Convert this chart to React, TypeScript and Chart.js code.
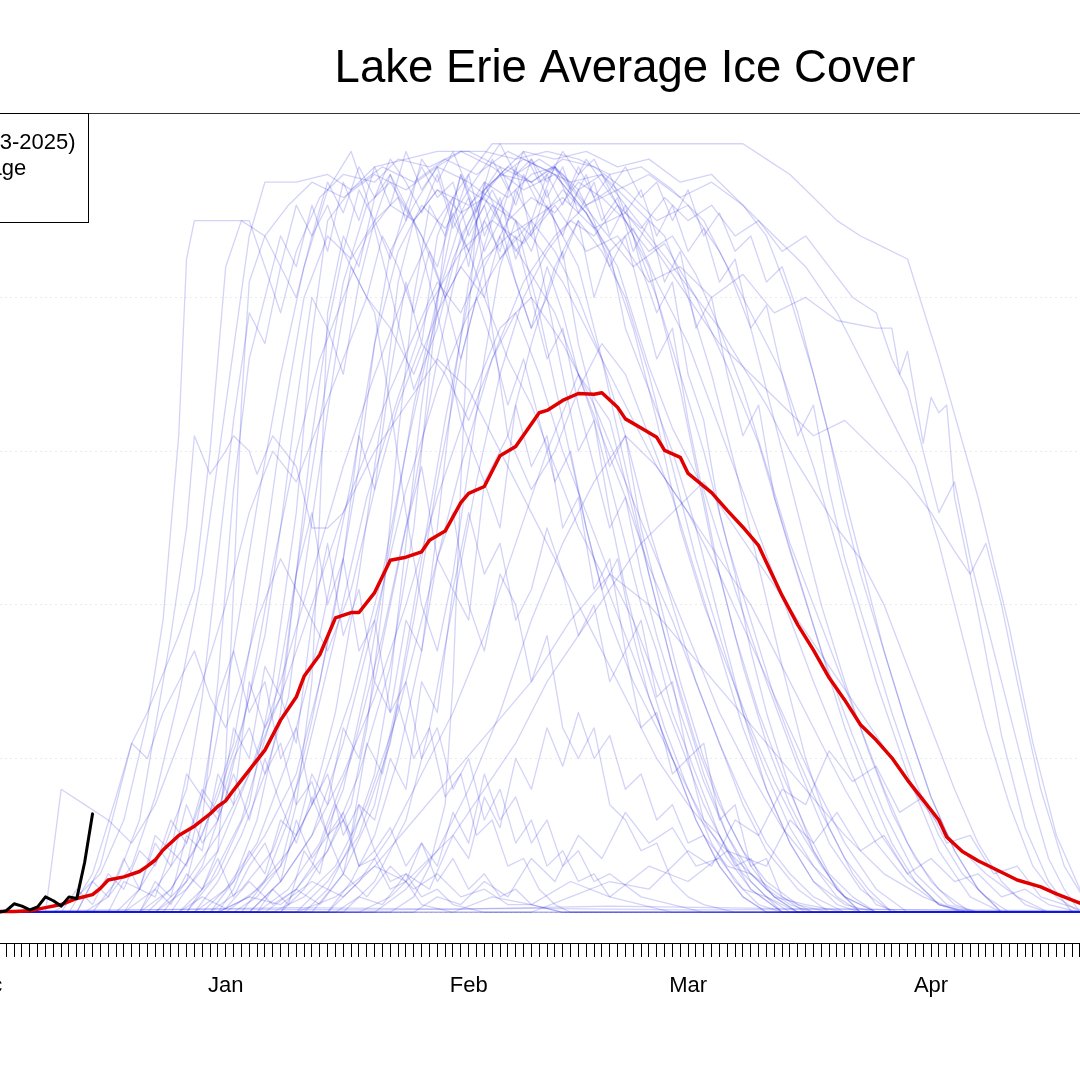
import { useEffect, useRef } from 'react';
import { Chart, registerables } from 'chart.js';

Chart.register(...registerables);

type Pt = [number, number];

// Day index along the season: 0 = Dec 1, 31 = Jan 1, 62 = Feb 1, 90 = Mar 1, 121 = Apr 1
const monthStarts = [0, 31, 62, 90, 121];
const monthLabels = ['Dec', 'Jan', 'Feb', 'Mar', 'Apr'];
const gridLevels = [0, 20, 40, 60, 80];

const titleText = 'Lake Erie Average Ice Cover';
const legendLabels = ['Winters (1973-2025)', 'Winter Average', '2025-2026'];

// Long-term daily average ice cover (%)
const averageCover: Pt[] = [
  [0, 0], [2, 0.1], [4, 0.1], [6, 0.2], [8, 0.6], [10, 1.0], [12, 1.8], [14, 2.3], [15, 3.1], [16, 4.2],
  [18, 4.6], [20, 5.3], [21, 6.0], [22, 6.8], [23, 8.1], [25, 10.0], [27, 11.2], [29, 12.8], [30, 13.8],
  [31, 14.5], [32, 15.9], [34, 18.5], [36, 21.1], [38, 25.0], [40, 28.0], [41, 30.7], [43, 33.5],
  [45, 38.3], [47, 39.0], [48, 39.0], [50, 41.6], [52, 45.8], [54, 46.2], [56, 46.9], [57, 48.4],
  [59, 49.6], [61, 53.3], [62, 54.5], [64, 55.4], [66, 59.4], [68, 60.6], [71, 65.0], [72, 65.3],
  [74, 66.6], [76, 67.5], [78, 67.4], [79, 67.6], [81, 65.7], [82, 64.2], [84, 63.0], [86, 61.8],
  [87, 60.1], [89, 59.2], [90, 57.1], [93, 54.6], [95, 52.3], [97, 50.1], [99, 47.7], [100, 45.5],
  [102, 41.2], [104, 37.4], [106, 34.1], [108, 30.5], [110, 27.6], [112, 24.4], [114, 22.4],
  [116, 20.1], [118, 17.2], [120, 14.6], [122, 12.0], [123, 9.8], [125, 7.9], [127, 6.7], [130, 5.2],
  [132, 4.2], [135, 3.3], [137, 2.4], [140, 1.2], [141, 0.9],
];

// Current winter so far
const currentSeason: Pt[] = [
  [0, 0], [1, 0], [2, 0], [3, 0.2], [4, 1.1], [5, 0.8], [6, 0.3], [7, 0.7], [8, 2.0], [9, 1.5],
  [10, 0.8], [11, 2.0], [12, 1.8], [13, 6.5], [14, 12.8],
];

// Past winters, daily ice cover (%)
const winter01: Pt[] = [[0,0],[9,0],[12,2],[15,5],[18,12],[21,25],[23,38],[25,62],[26,85],[27,90],[31,90],[34,90],[36,84],[38,78],[40,86],[43,93],[46,96],[50,95],[53,98],[57,97],[61,99],[65,97],[69,94],[73,96],[77,91],[80,86],[83,89],[86,82],[90,74],[94,63],[98,52],[102,41],[106,30],[110,20],[114,11],[118,5],[122,1],[126,0],[141,0]];
const winter02: Pt[] = [[0,0],[13,0],[16,2],[19,6],[22,15],[25,28],[28,44],[31,66],[34,88],[36,95],[40,95],[44,96],[47,94],[50,97],[54,98],[58,99],[62,99],[66,97],[70,95],[73,97],[76,93],[79,89],[83,84],[87,87],[91,80],[95,71],[99,61],[103,47],[107,34],[111,23],[115,13],[119,5],[123,1],[127,0],[141,0]];
const winter03: Pt[] = [[0,0],[18,0],[22,3],[26,9],[29,18],[32,34],[35,53],[38,70],[41,84],[44,94],[47,99],[49,93],[52,81],[55,68],[58,76],[61,88],[65,95],[69,98],[73,96],[77,91],[81,84],[85,71],[88,63],[92,55],[96,42],[100,30],[104,19],[108,9],[112,3],[116,0],[141,0]];
const winter04: Pt[] = [[0,0],[22,0],[26,3],[30,8],[34,18],[38,30],[42,44],[46,58],[50,70],[54,81],[58,90],[62,96],[65,100],[97,100],[100,98],[103,96],[106,93],[109,90],[112,88],[114,87],[118,85],[122,72],[127,54],[131,37],[134,22],[137,10],[140,3],[141,1]];
const winter05: Pt[] = [[0,0],[29,0],[33,3],[37,8],[41,19],[45,36],[49,54],[53,67],[57,79],[61,86],[65,90],[69,87],[73,92],[77,86],[81,88],[85,82],[89,84],[93,80],[97,83],[101,78],[105,80],[109,77],[114,76],[116,76],[117,70],[118,73],[119,67],[120,61],[121,67],[122,65],[123,66],[124,54],[127,39],[130,23],[133,11],[136,4],[139,0],[141,0]];
const winter06: Pt[] = [[0,0],[34,0],[38,4],[42,10],[46,22],[50,38],[54,55],[58,68],[62,78],[66,85],[70,90],[74,93],[78,89],[82,91],[86,86],[90,80],[94,74],[98,70],[102,66],[106,62],[110,64],[114,60],[118,56],[121,52],[124,47],[126,44],[128,48],[130,40],[132,30],[135,16],[138,6],[141,1]];
const winter07: Pt[] = [[0,0],[12,0],[15,6],[17,14],[19,22],[21,26],[23,31],[25,36],[27,42],[29,60],[31,84],[33,90],[36,88],[39,92],[42,95],[46,93],[50,96],[54,94],[58,97],[62,95],[66,92],[70,88],[74,82],[78,74],[82,66],[86,58],[90,52],[94,44],[98,35],[102,26],[106,17],[110,9],[114,3],[118,0],[141,0]];
const winter08: Pt[] = [[0,0],[8,0],[10,16],[13,14],[16,12],[19,9],[22,14],[25,22],[28,30],[31,40],[34,52],[37,60],[40,56],[43,64],[46,72],[49,80],[52,76],[55,70],[58,78],[61,84],[64,80],[67,72],[70,66],[73,58],[76,50],[79,44],[82,36],[85,28],[88,20],[91,12],[94,6],[97,2],[100,0],[141,0]];
const winter09: Pt[] = [[0,0],[14,0],[17,4],[20,12],[22,24],[24,36],[26,50],[27,62],[29,57],[31,60],[32,62],[34,60],[35,57],[37,62],[40,58],[42,50],[44,50],[46,52],[49,60],[52,68],[55,75],[58,82],[61,78],[64,85],[67,88],[70,83],[73,78],[76,70],[79,62],[82,54],[85,45],[88,38],[91,30],[94,22],[97,14],[100,8],[104,3],[108,0],[141,0]];
const winter10: Pt[] = [[0,0],[11,0],[14,5],[17,15],[19,22],[21,20],[23,26],[25,30],[27,34],[29,28],[31,24],[33,30],[35,38],[38,46],[41,40],[44,34],[47,42],[50,55],[53,66],[56,74],[59,70],[62,64],[65,72],[68,78],[71,70],[74,60],[77,52],[80,44],[83,38],[86,30],[89,22],[92,14],[95,8],[98,3],[102,0],[141,0]];
const winter11: Pt[] = [[0,0],[26,0],[30,5],[34,14],[37,30],[40,52],[42,75],[44,90],[47,94],[51,97],[55,95],[59,98],[63,96],[67,99],[71,97],[75,95],[79,96],[83,92],[87,88],[90,80],[93,70],[96,58],[99,45],[102,32],[105,20],[108,11],[111,5],[114,1],[117,0],[141,0]];
const winter12: Pt[] = [[0,0],[30,0],[34,2],[38,6],[42,14],[45,26],[48,44],[51,65],[53,82],[55,90],[58,94],[62,92],[66,96],[70,95],[74,98],[78,97],[82,94],[86,90],[90,92],[94,86],[98,78],[102,70],[106,58],[110,44],[114,30],[118,18],[122,8],[126,2],[130,0],[141,0]];
const winter13: Pt[] = [[0,0],[20,0],[24,3],[28,10],[32,22],[35,40],[38,62],[41,80],[44,88],[47,85],[50,90],[53,93],[56,88],[59,80],[62,86],[65,92],[68,90],[71,78],[74,64],[77,50],[80,38],[83,30],[86,24],[89,18],[92,12],[95,7],[98,3],[102,0],[141,0]];
const winter14: Pt[] = [[0,0],[33,0],[36,4],[39,12],[42,25],[45,40],[48,58],[50,74],[52,86],[55,92],[58,97],[61,99],[64,99],[68,98],[72,99],[76,98],[80,96],[84,97],[88,94],[92,90],[95,84],[98,76],[101,64],[104,52],[107,40],[110,30],[113,21],[116,13],[119,7],[122,3],[126,0],[141,0]];
const winter15: Pt[] = [[0,0],[35,0],[39,3],[43,9],[47,20],[51,36],[55,55],[58,72],[61,86],[64,94],[67,97],[70,95],[73,90],[76,84],[79,72],[82,58],[85,44],[88,32],[91,22],[94,14],[97,8],[100,4],[104,1],[108,0],[141,0]];
const winter16: Pt[] = [[0,0],[40,0],[44,4],[48,10],[52,22],[55,38],[58,56],[61,72],[64,84],[67,90],[70,93],[73,91],[76,95],[79,93],[82,90],[85,86],[88,88],[91,83],[94,76],[97,68],[100,58],[103,48],[106,40],[109,32],[112,24],[115,16],[118,9],[121,4],[124,1],[127,0],[141,0]];
const winter17: Pt[] = [[0,0],[24,0],[28,6],[31,15],[34,28],[37,45],[40,60],[43,72],[46,80],[49,88],[52,92],[55,90],[58,94],[61,91],[64,93],[67,88],[70,90],[73,86],[76,80],[79,72],[82,62],[85,50],[88,40],[91,30],[94,22],[97,15],[100,9],[103,5],[106,2],[110,0],[141,0]];
const winter18: Pt[] = [[0,0],[38,0],[42,6],[46,16],[49,30],[52,48],[55,66],[58,80],[61,90],[64,95],[67,93],[70,96],[73,97],[76,94],[79,96],[82,92],[85,88],[88,84],[91,80],[94,76],[97,71],[100,66],[103,60],[106,55],[109,50],[112,46],[115,40],[118,32],[121,24],[124,16],[127,9],[130,4],[133,1],[136,0],[141,0]];
const winter19: Pt[] = [[0,0],[28,0],[32,4],[36,10],[40,18],[43,30],[46,46],[48,62],[50,55],[52,70],[54,82],[56,74],[58,88],[60,93],[62,84],[64,95],[66,90],[68,97],[70,88],[72,94],[74,85],[76,90],[78,80],[80,86],[82,76],[85,68],[88,60],[91,50],[94,38],[97,26],[100,16],[103,9],[106,4],[109,1],[112,0],[141,0]];
const winter20: Pt[] = [[0,0],[36,0],[40,3],[44,8],[48,18],[52,32],[55,50],[57,70],[59,88],[61,96],[63,90],[65,76],[67,62],[70,55],[73,60],[76,68],[79,74],[82,70],[85,62],[88,54],[91,44],[94,34],[97,24],[100,16],[103,9],[106,4],[110,1],[114,0],[141,0]];
const winter21: Pt[] = [[0,0],[31,0],[35,3],[39,8],[43,16],[47,28],[51,44],[54,60],[57,74],[60,85],[63,92],[66,96],[69,99],[73,98],[77,99],[81,97],[85,98],[89,95],[93,96],[97,92],[100,88],[103,80],[106,70],[109,58],[112,46],[115,34],[118,24],[121,15],[124,8],[127,3],[130,0],[141,0]];
const winter22: Pt[] = [[0,0],[25,0],[29,4],[33,12],[37,26],[40,44],[43,64],[46,82],[49,92],[52,95],[55,90],[58,78],[61,64],[64,56],[67,62],[70,74],[73,84],[76,90],[79,86],[82,80],[85,70],[88,58],[91,46],[94,36],[97,26],[100,18],[103,11],[106,6],[109,2],[112,0],[141,0]];
const winter23: Pt[] = [[0,0],[42,0],[46,5],[50,14],[53,28],[56,46],[59,64],[62,80],[65,90],[68,96],[71,98],[74,96],[77,92],[80,94],[83,88],[86,80],[89,70],[92,60],[95,48],[98,38],[101,28],[104,20],[107,13],[110,7],[113,3],[116,0],[141,0]];
const winter24: Pt[] = [[0,0],[27,0],[31,3],[35,9],[39,20],[43,36],[47,56],[50,74],[53,86],[56,92],[59,89],[62,94],[65,92],[68,86],[71,90],[74,94],[77,91],[80,85],[83,76],[86,64],[89,50],[92,40],[95,32],[98,24],[101,17],[104,11],[107,6],[110,2],[114,0],[141,0]];
const winter25: Pt[] = [[0,0],[37,0],[41,2],[45,6],[49,14],[53,26],[57,42],[61,58],[65,72],[69,82],[73,88],[77,92],[81,94],[85,96],[89,93],[93,95],[97,92],[101,88],[105,84],[109,78],[113,70],[116,64],[119,58],[122,48],[125,36],[128,24],[131,14],[134,6],[137,2],[140,0],[141,0]];
const winter26: Pt[] = [[0,0],[30,0],[32,3],[34,8],[36,5],[38,12],[40,10],[42,18],[44,14],[46,24],[48,20],[50,30],[52,26],[54,38],[56,34],[58,46],[60,42],[62,52],[64,44],[66,48],[68,38],[70,42],[72,50],[74,44],[76,36],[78,40],[80,30],[82,34],[84,24],[86,26],[88,18],[90,20],[92,12],[94,10],[96,6],[98,7],[100,3],[103,1],[106,0],[141,0]];
const winter27: Pt[] = [[0,0],[44,0],[48,4],[52,10],[56,18],[60,26],[64,36],[68,48],[72,60],[76,70],[80,64],[83,52],[86,40],[89,28],[92,18],[95,10],[98,4],[102,0],[141,0]];
const winter28: Pt[] = [[0,0],[20,0],[22,4],[24,2],[26,10],[28,8],[30,18],[32,14],[34,30],[36,24],[38,28],[40,22],[42,38],[44,48],[46,36],[48,42],[50,30],[52,40],[54,50],[56,58],[58,46],[60,52],[62,40],[64,34],[66,44],[68,40],[70,30],[72,36],[74,24],[76,20],[78,24],[80,14],[82,12],[84,8],[86,9],[88,4],[90,2],[92,1],[96,0],[141,0]];
const winter29: Pt[] = [[0,0],[50,0],[54,3],[58,8],[62,16],[66,26],[70,38],[74,48],[78,56],[82,62],[86,58],[90,52],[94,46],[98,40],[102,32],[106,24],[110,16],[114,9],[118,4],[122,1],[126,0],[141,0]];
const winter30: Pt[] = [[0,0],[16,0],[18,4],[20,3],[22,10],[24,8],[26,18],[28,15],[30,28],[32,34],[34,26],[36,30],[38,20],[40,24],[42,14],[44,18],[46,10],[48,14],[50,12],[52,20],[54,16],[56,30],[58,26],[60,42],[62,38],[64,56],[66,50],[68,66],[70,58],[72,62],[74,50],[76,54],[78,42],[80,46],[82,34],[84,38],[86,28],[88,30],[90,20],[92,22],[94,12],[96,14],[98,6],[100,7],[102,2],[105,0],[141,0]];
const winter31: Pt[] = [[0,0],[40,0],[45,2],[50,6],[55,12],[60,18],[65,24],[70,30],[75,38],[80,44],[85,40],[90,34],[95,28],[100,22],[105,16],[110,10],[115,5],[120,2],[125,0],[141,0]];
const winter32: Pt[] = [[0,0],[22,0],[26,4],[30,10],[34,18],[38,28],[42,40],[46,52],[50,60],[54,66],[58,72],[62,68],[66,60],[70,52],[74,44],[78,36],[82,28],[86,20],[90,14],[94,9],[98,5],[102,2],[106,0],[141,0]];
const winter33: Pt[] = [[0,0],[18,0],[20,3],[22,2],[24,8],[26,6],[28,15],[30,12],[32,24],[34,20],[36,32],[38,28],[40,44],[42,52],[44,40],[46,46],[48,34],[50,38],[52,26],[54,30],[56,20],[58,24],[60,16],[62,20],[64,12],[66,16],[68,9],[70,12],[72,6],[74,8],[76,4],[78,5],[80,2],[84,1],[88,0],[141,0]];
const winter34: Pt[] = [[0,0],[34,0],[38,4],[42,10],[46,18],[50,28],[54,40],[58,54],[62,66],[66,76],[70,80],[74,74],[78,66],[82,56],[86,46],[90,36],[94,26],[98,18],[102,11],[106,6],[110,2],[114,0],[141,0]];
const winter35: Pt[] = [[0,0],[48,0],[52,2],[56,6],[60,10],[64,16],[68,22],[72,30],[76,36],[80,42],[84,48],[88,52],[92,56],[96,50],[100,44],[104,38],[108,32],[112,26],[116,20],[120,14],[124,9],[128,5],[132,2],[136,0],[141,0]];
const winter36: Pt[] = [[0,0],[20,0],[22,3],[24,1],[26,5],[28,3],[30,7],[32,2],[34,6],[36,9],[38,4],[40,12],[42,7],[44,10],[46,5],[48,14],[50,8],[52,11],[54,6],[56,9],[58,4],[60,7],[62,3],[64,5],[66,2],[68,3],[70,1],[74,0],[141,0]];
const winter37: Pt[] = [[0,0],[12,0],[14,4],[16,2],[18,7],[20,3],[22,9],[24,6],[26,14],[28,9],[30,12],[32,18],[34,12],[36,20],[38,14],[40,9],[42,15],[44,10],[46,13],[48,6],[50,8],[52,4],[54,5],[56,2],[58,3],[60,1],[64,0],[141,0]];
const winter38: Pt[] = [[0,0],[30,0],[34,2],[38,1],[42,4],[46,2],[50,6],[54,4],[56,9],[58,6],[60,13],[62,9],[64,18],[66,12],[68,15],[70,9],[72,12],[74,6],[76,8],[78,4],[80,5],[84,2],[88,1],[92,0],[141,0]];
const winter39: Pt[] = [[0,0],[25,0],[28,2],[31,0.5],[34,4],[37,1],[40,3],[43,1],[46,5],[49,2],[52,6],[55,3],[58,5],[61,2],[64,3],[67,1],[70,1],[74,0],[141,0]];
const winter40: Pt[] = [[0,0],[45,0],[48,2],[51,1],[54,5],[57,3],[60,10],[62,7],[64,15],[66,11],[68,20],[70,16],[72,24],[74,19],[76,26],[78,20],[80,23],[82,16],[84,18],[86,12],[88,14],[90,9],[92,10],[95,6],[98,5],[101,2],[105,1],[110,0],[141,0]];
const winter41: Pt[] = [[0,0],[10,0],[12,3],[14,1],[16,5],[18,3],[20,8],[22,6],[24,12],[26,9],[28,16],[30,13],[32,20],[34,24],[36,18],[38,22],[40,14],[42,17],[44,10],[46,12],[48,6],[50,7],[52,3],[54,4],[56,1],[60,0],[141,0]];
const winter42: Pt[] = [[0,0],[55,0],[58,2],[61,1],[64,4],[67,2],[70,7],[73,4],[76,10],[79,7],[82,13],[85,9],[88,11],[91,6],[94,7],[97,3],[100,2],[104,0],[141,0]];
const winter43: Pt[] = [[0,0],[35,0],[37,3],[39,1],[41,8],[43,5],[45,14],[47,10],[49,22],[51,18],[53,27],[55,20],[57,24],[59,15],[61,18],[63,10],[65,12],[67,6],[69,7],[71,3],[73,1],[75,0],[141,0]];
const winter44: Pt[] = [[0,0],[60,0],[65,2],[70,1],[75,4],[80,2],[85,6],[90,4],[95,8],[100,6],[103,12],[106,9],[109,13],[112,8],[115,10],[118,5],[121,7],[124,4],[127,5],[130,2],[133,3],[136,1],[140,0],[141,0]];
const winter45: Pt[] = [[0,0],[70,0],[75,2],[80,4],[85,3],[90,8],[93,6],[96,12],[99,10],[102,16],[105,14],[108,21],[111,17],[114,19],[117,13],[120,15],[123,9],[126,10],[129,5],[132,6],[135,2],[138,1],[141,0]];
const winter46: Pt[] = [[0,0],[23,0],[26,4],[28,12],[30,30],[32,55],[34,72],[36,80],[38,88],[40,84],[42,92],[44,86],[46,95],[48,90],[50,97],[52,92],[54,99],[56,94],[58,97],[60,90],[62,96],[64,88],[66,93],[68,85],[70,90],[72,80],[74,86],[76,74],[78,66],[80,58],[82,62],[84,50],[86,42],[89,30],[92,20],[95,12],[98,6],[101,2],[104,0],[141,0]];
const winter47: Pt[] = [[0,0],[32,0],[35,2],[38,6],[40,14],[42,30],[43,52],[44,78],[46,88],[48,84],[50,93],[52,96],[54,90],[56,98],[58,95],[60,99],[62,94],[64,97],[66,100],[68,96],[70,98],[72,93],[74,97],[76,91],[78,95],[80,88],[82,92],[84,84],[86,78],[88,82],[90,70],[92,64],[94,52],[96,44],[98,34],[100,26],[103,16],[106,8],[109,3],[112,0],[141,0]];
const winter48: Pt[] = [[0,0],[38,0],[41,3],[44,8],[47,14],[49,24],[51,40],[53,62],[55,80],[57,92],[59,88],[61,96],[63,91],[65,98],[67,94],[69,99],[71,95],[73,97],[75,92],[77,96],[79,90],[81,93],[83,86],[85,90],[87,82],[89,86],[91,76],[93,80],[95,70],[97,62],[99,66],[101,54],[104,44],[107,34],[110,24],[113,16],[116,9],[119,4],[122,1],[125,0],[141,0]];
const winter49: Pt[] = [[0,0],[21,0],[24,3],[27,8],[30,15],[33,24],[36,36],[38,50],[40,66],[42,80],[44,76],[46,86],[48,82],[50,90],[52,85],[54,92],[56,88],[58,84],[60,91],[62,86],[64,80],[66,88],[68,82],[70,76],[72,84],[74,78],[76,70],[78,64],[80,56],[82,48],[84,40],[86,34],[88,26],[91,18],[94,10],[97,5],[100,2],[103,0],[141,0]];
const winter50: Pt[] = [[0,0],[41,0],[44,3],[47,9],[50,18],[52,30],[54,48],[56,66],[58,80],[60,90],[62,86],[64,94],[66,97],[68,92],[70,98],[72,95],[74,99],[76,96],[78,98],[80,94],[82,97],[84,93],[86,95],[88,90],[90,94],[92,88],[94,91],[96,86],[98,88],[100,82],[102,84],[104,78],[106,70],[108,62],[110,52],[112,44],[115,34],[118,24],[121,15],[124,8],[127,3],[130,0],[141,0]];
const winter51: Pt[] = [[0,0],[27,0],[30,4],[33,10],[36,18],[39,28],[41,44],[43,58],[45,72],[47,84],[49,80],[51,88],[53,84],[55,78],[57,86],[59,80],[61,72],[63,80],[65,74],[67,66],[69,72],[71,64],[73,56],[75,60],[77,50],[79,42],[81,46],[83,36],[85,28],[88,20],[91,12],[94,6],[97,2],[100,0],[141,0]];
const winter52: Pt[] = [[0,0],[44,0],[47,4],[50,10],[53,20],[56,34],[58,50],[60,68],[62,82],[64,90],[66,86],[68,94],[70,90],[72,96],[74,92],[76,97],[78,93],[80,96],[82,91],[84,94],[86,88],[88,92],[90,86],[92,89],[94,82],[96,85],[98,76],[100,79],[102,70],[104,62],[106,66],[108,55],[110,46],[113,36],[116,26],[119,17],[122,10],[125,5],[128,2],[131,0],[141,0]];
const winter53: Pt[] = [[0,0],[17,0],[20,3],[23,8],[26,16],[28,28],[30,46],[32,64],[34,78],[36,74],[38,84],[40,80],[42,88],[44,92],[46,86],[48,94],[50,90],[52,96],[54,92],[56,97],[58,93],[60,95],[62,88],[64,92],[66,85],[68,88],[70,80],[72,72],[74,76],[76,66],[78,58],[80,50],[82,54],[84,44],[86,36],[89,26],[92,17],[95,10],[98,5],[101,2],[104,0],[141,0]];
const winter54: Pt[] = [[0,0],[46,0],[50,4],[54,12],[57,24],[60,40],[63,56],[66,70],[69,80],[72,86],[75,90],[78,88],[81,92],[84,89],[87,93],[90,90],[93,92],[96,88],[99,90],[102,86],[105,88],[108,84],[111,80],[114,78],[116,72],[118,68],[120,60],[122,52],[124,56],[126,46],[128,38],[130,30],[132,22],[134,14],[136,7],[138,3],[140,0],[141,0]];
const winter55: Pt[] = [[0,0],[52,0],[55,2],[57,6],[59,14],[60,30],[61,56],[62,78],[63,90],[65,94],[67,90],[69,96],[71,92],[73,97],[75,94],[77,98],[79,95],[81,92],[83,88],[85,84],[87,76],[89,68],[91,58],[93,48],[95,40],[97,32],[100,22],[103,14],[106,8],[109,3],[112,0],[141,0]];
const winter56: Pt[] = [[0,0],[26,0],[28,3],[30,8],[31,20],[32,42],[33,66],[34,82],[36,88],[38,84],[40,92],[42,88],[44,95],[46,91],[48,97],[50,93],[52,98],[54,95],[56,91],[58,96],[60,89],[62,93],[64,86],[66,90],[68,82],[70,76],[72,80],[74,70],[76,60],[78,64],[80,52],[82,42],[84,34],[87,24],[90,16],[93,9],[96,4],[99,1],[102,0],[141,0]];
const winter57: Pt[] = [[0,0],[29,0],[32,4],[35,12],[38,26],[40,44],[42,62],[44,76],[46,70],[48,82],[50,78],[52,66],[54,52],[56,40],[58,34],[60,44],[62,58],[64,72],[66,84],[68,90],[70,86],[72,92],[74,88],[76,94],[78,90],[80,84],[82,88],[84,80],[86,72],[88,76],[90,64],[92,54],[94,44],[96,36],[99,26],[102,18],[105,11],[108,5],[111,2],[114,0],[141,0]];
const winter58: Pt[] = [[0,0],[10,0.2],[30,0.4],[50,0.3],[70,0.5],[90,0.3],[110,0.4],[130,0.2],[141,0.1]];
const winter59: Pt[] = [[0,0.1],[20,0.3],[40,0.6],[60,0.4],[80,0.8],[100,0.5],[120,0.3],[141,0.2]];

const pastWinters: Pt[][] = [
  winter01, winter02, winter03, winter04, winter05, winter06, winter07, winter08, winter09, winter10,
  winter11, winter12, winter13, winter14, winter15, winter16, winter17, winter18, winter19, winter20,
  winter21, winter22, winter23, winter24, winter25, winter26, winter27, winter28, winter29, winter30,
  winter31, winter32, winter33, winter34, winter35, winter36, winter37, winter38, winter39, winter40,
  winter41, winter42, winter43, winter44, winter45, winter46, winter47, winter48, winter49, winter50,
  winter51, winter52, winter53, winter54, winter55, winter56, winter57, winter58, winter59,
];

const FONT = '"Liberation Sans", Arial, Helvetica, sans-serif';
const VIEW_SHIFT = 60; // the canvas starts this far left of the page edge
const CANVAS_W = 1080 + VIEW_SHIFT;
const CANVAS_H = 1080;
const X_MIN = -5.46;
const X_MAX = 140.01;
const BLUE = 'rgba(20, 20, 210, 0.19)';
const RED = '#e00000';

const toXY = (pts: Pt[]) => pts.map(([x, y]) => ({ x, y }));

const dayTicks = Array.from({ length: 146 }, (_, i) => i - 5);

const framePlugin = {
  id: 'frameTitleLegend',
  afterDraw(chart: any) {
    const { ctx, chartArea } = chart;
    ctx.save();

    // title
    ctx.fillStyle = '#000';
    ctx.font = `45.5px ${FONT}`;
    ctx.textAlign = 'center';
    ctx.textBaseline = 'alphabetic';
    ctx.fillText(titleText, VIEW_SHIFT + 625, 82);

    // upper frame line
    ctx.strokeStyle = '#333';
    ctx.lineWidth = 1;
    ctx.beginPath();
    ctx.moveTo(0, chartArea.top + 0.5);
    ctx.lineTo(chart.width, chartArea.top + 0.5);
    ctx.stroke();

    // legend
    ctx.font = `22px ${FONT}`;
    ctx.textAlign = 'left';
    ctx.textBaseline = 'middle';
    const w1 = ctx.measureText(legendLabels[0]).width;
    const textX = VIEW_SHIFT + 75.5 - w1;
    const rows = [143, 169, 195];
    const colors = [BLUE, RED, '#000'];
    const widths = [1.3, 3.5, 3];
    const boxLeft = textX - 64;
    const boxRight = VIEW_SHIFT + 88.5;
    ctx.fillStyle = '#fff';
    ctx.fillRect(boxLeft, chartArea.top + 1, boxRight - boxLeft, 222 - chartArea.top - 1);
    ctx.strokeStyle = '#000';
    ctx.lineWidth = 1;
    ctx.strokeRect(boxLeft, chartArea.top + 0.5, boxRight - boxLeft, 222 - chartArea.top);
    rows.forEach((y, i) => {
      ctx.strokeStyle = colors[i];
      ctx.lineWidth = widths[i];
      ctx.beginPath();
      ctx.moveTo(textX - 52, y);
      ctx.lineTo(textX - 12, y);
      ctx.stroke();
      ctx.fillStyle = '#000';
      ctx.fillText(legendLabels[i], textX, y);
    });

    ctx.restore();
  },
};

export default function App() {
  const canvasRef = useRef<HTMLCanvasElement | null>(null);

  useEffect(() => {
    const canvas = canvasRef.current;
    if (!canvas) return;

    const datasets: any[] = [
      {
        label: legendLabels[2],
        data: toXY(currentSeason),
        borderColor: '#000',
        borderWidth: 3,
        order: 0,
      },
      {
        label: legendLabels[1],
        data: toXY(averageCover),
        borderColor: RED,
        borderWidth: 3.5,
        order: 1,
      },
      ...pastWinters.map((w, i) => ({
        label: `${legendLabels[0]} #${i + 1}`,
        data: toXY(w),
        borderColor: BLUE,
        borderWidth: 1.3,
        order: 2,
      })),
    ];

    const chart = new Chart(canvas, {
      type: 'line',
      data: { datasets },
      plugins: [framePlugin],
      options: {
        responsive: false,
        animation: false,
        devicePixelRatio: 1,
        layout: { padding: { top: 113, left: 0, right: 0, bottom: 0 } },
        elements: {
          point: { radius: 0, hoverRadius: 0 },
          line: { tension: 0, borderJoinStyle: 'round', borderCapStyle: 'round', fill: false },
        },
        plugins: {
          legend: { display: false },
          tooltip: { enabled: false },
          title: { display: false },
        },
        events: [],
        scales: {
          x: {
            type: 'linear',
            min: X_MIN,
            max: X_MAX,
            afterBuildTicks: (axis: any) => {
              axis.ticks = dayTicks.map((v) => ({ value: v }));
            },
            afterFit: (scale: any) => {
              scale.height = CANVAS_H - 943;
              scale.paddingLeft = 0;
              scale.paddingRight = 0;
            },
            ticks: {
              autoSkip: false,
              maxRotation: 0,
              minRotation: 0,
              padding: 16,
              color: '#000',
              font: { family: FONT, size: 22 },
              callback: (v: any) => {
                const i = monthStarts.indexOf(Number(v));
                return i >= 0 ? monthLabels[i] : '';
              },
            },
            grid: {
              drawOnChartArea: false,
              drawTicks: true,
              tickLength: 14,
              tickColor: '#000',
              tickWidth: 1,
            },
            border: { display: true, color: '#000', width: 1 },
          },
          y: {
            type: 'linear',
            min: -4,
            max: 104,
            afterBuildTicks: (axis: any) => {
              axis.ticks = gridLevels.map((v) => ({ value: v }));
            },
            afterFit: (scale: any) => {
              scale.width = 0;
            },
            ticks: { display: false },
            grid: { drawTicks: false, color: 'rgba(0,0,0,0.08)', lineWidth: 1 },
            border: { display: false, dash: [2, 3] },
          },
        },
      } as any,
    });

    return () => chart.destroy();
  }, []);

  return (
    <div
      style={{
        position: 'fixed',
        left: 0,
        top: 0,
        width: 1080,
        height: 1080,
        overflow: 'hidden',
        background: '#fff',
      }}
    >
      <canvas
        ref={canvasRef}
        width={CANVAS_W}
        height={CANVAS_H}
        style={{ position: 'absolute', left: -VIEW_SHIFT, top: 0, width: CANVAS_W, height: CANVAS_H }}
      />
    </div>
  );
}
